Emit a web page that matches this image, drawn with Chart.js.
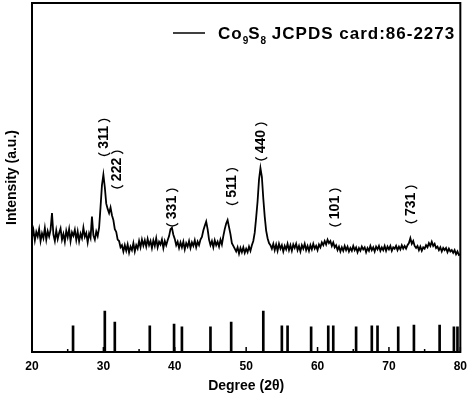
<!DOCTYPE html>
<html>
<head>
<meta charset="utf-8">
<script src="https://cdn.jsdelivr.net/npm/chart.js@4/dist/chart.umd.min.js"></script>
<style>
  html, body { margin: 0; padding: 0; background: #fff; }
  #xrd { display: block; }
</style>
</head>
<body>
<canvas id="xrd" width="474" height="401"></canvas>
<script>
// XRD pattern at 0.2 deg steps from 20 to 80 (a.u.)
var intensity = [
  328, 349, 320, 344, 331,  352, 318, 340, 326, 355,  322, 346, 331, 350, 398,
  336, 318, 348, 324, 341,  354, 322, 338, 316, 347,  329, 352, 318, 343, 333,
  350, 321, 345, 317, 339,  326, 356, 330, 341, 314,  340, 327, 388, 334, 322,
  345, 332, 356, 415, 478,  508, 472, 425, 410, 398,  414, 392, 378, 352, 344,
  322, 318, 300, 306, 288,  306, 290, 308, 285, 302,  292, 312, 288, 306, 296,
  318, 300, 322, 305, 320,  302, 324, 306, 318, 298,  320, 304, 326, 300, 316,
  308, 322, 298, 318, 306,  320, 332, 352, 356, 336,  324, 306, 316, 298, 314,
  300, 316, 294, 312, 302,  318, 298, 314, 304, 320,  300, 316, 306, 322, 330,
  348, 362, 374, 352, 322,  306, 318, 300, 320, 306,  316, 302, 322, 308, 332,
  352, 368, 378, 358, 338,  312, 304, 296, 288, 300,  282, 298, 286, 300, 284,
  296, 286, 302, 290, 306,  318, 342, 385, 432, 494,  527, 502, 440, 388, 348,
  326, 312, 306, 296, 310,  292, 308, 290, 310, 296,  306, 288, 304, 294, 310,
  292, 306, 290, 308, 298,  310, 292, 304, 288, 306,  296, 310, 292, 304, 290,
  306, 294, 310, 296, 304,  292, 308, 300, 314, 306,  318, 308, 322, 312, 318,
  304, 314, 300, 306, 292,  302, 288, 300, 290, 304,  292, 302, 288, 298, 290,
  304, 292, 300, 286, 298,  290, 302, 294, 300, 286,  298, 290, 304, 292, 300,
  288, 302, 294, 304, 290,  300, 292, 304, 290, 302,  294, 304, 290, 300, 296,
  304, 292, 302, 294, 306,  296, 304, 296, 306, 312,  326, 310, 318, 304, 298,
  304, 292, 302, 290, 300,  296, 306, 300, 312, 304,  316, 304, 310, 298, 302,
  292, 300, 288, 298, 292,  298, 286, 296, 288, 292,  284, 292, 280, 288, 278,
  280
];
var twoTheta = intensity.map(function (v, i) { return 20 + i * 0.2; });

// JCPDS 86-2273 reference lines
var refPositions = [25.75, 30.2, 31.6, 36.5, 39.9, 41.0, 45.0, 47.9, 52.4, 55.0, 55.8,
                    59.1, 61.5, 62.2, 65.4, 67.6, 68.4, 71.3, 73.5, 77.1, 79.1, 79.6];
var refHeights   = [75, 117, 86, 75, 80, 72, 72, 86, 117, 75, 75,
                    72, 75, 75, 72, 75, 75, 72, 77, 77, 72, 72];

// peak labels (hkl) with their anchor in data units
var peakHkl = ['311', '222', '331', '511', '440', '101', '731'];
var peakX   = [30.15, 31.95, 39.6, 48.0, 52.15, 62.45, 73.05];
var peakY   = [615, 523, 414, 474, 603, 414, 423];

var xTicks = [20, 30, 40, 50, 60, 70, 80];
var xMinorTicks = [25, 35, 45, 55, 65, 75];

var FONT = '"Liberation Sans", Arial, sans-serif';
var CJK = '"Noto Sans CJK SC", "Noto Sans CJK JP", sans-serif';

var decorations = {
  id: 'decorations',
  afterDraw: function (chart) {
    var ctx = chart.ctx;
    var a = chart.chartArea;
    var xs = chart.scales.x, ys = chart.scales.y;
    ctx.save();

    // frame
    ctx.strokeStyle = '#000';
    ctx.lineWidth = 2;
    ctx.strokeRect(a.left, a.top, a.right - a.left, a.bottom - a.top);

    // inward tick marks on the bottom axis
    ctx.lineWidth = 1.5;
    ctx.beginPath();
    xTicks.forEach(function (t) {
      var px = xs.getPixelForValue(t);
      ctx.moveTo(px, a.bottom); ctx.lineTo(px, a.bottom - 5);
    });
    xMinorTicks.forEach(function (t) {
      var px = xs.getPixelForValue(t);
      ctx.moveTo(px, a.bottom); ctx.lineTo(px, a.bottom - 3);
    });
    ctx.stroke();

    ctx.fillStyle = '#000';

    // peak labels, rotated: full-width brackets round the hkl digits
    ctx.textBaseline = 'middle';
    ctx.textAlign = 'left';
    var gap = 3;
    peakHkl.forEach(function (hkl, i) {
      var pieces = [['（', 'bold 13px ' + CJK], [hkl, 'bold 14px ' + FONT], ['）', 'bold 13px ' + CJK]];
      var total = 2 * gap;
      pieces.forEach(function (p) { ctx.font = p[1]; total += ctx.measureText(p[0]).width; });
      ctx.save();
      ctx.translate(xs.getPixelForValue(peakX[i]), ys.getPixelForValue(peakY[i]));
      ctx.rotate(-Math.PI / 2);
      var x = -total / 2;
      pieces.forEach(function (p, k) {
        ctx.font = p[1];
        ctx.fillText(p[0], x, 0);
        x += ctx.measureText(p[0]).width + (k < 2 ? gap : 0);
      });
      ctx.restore();
    });

    // axis titles
    ctx.textAlign = 'center';
    ctx.font = 'bold 14px ' + FONT;
    ctx.fillText('Degree (2θ)', (a.left + a.right) / 2, 386);
    ctx.save();
    ctx.translate(12, (a.top + a.bottom) / 2);
    ctx.rotate(-Math.PI / 2);
    ctx.fillText('Intensity (a.u.)', 0, 0);
    ctx.restore();

    // legend
    ctx.lineWidth = 1.5;
    ctx.beginPath();
    ctx.moveTo(173, 33); ctx.lineTo(205, 33);
    ctx.stroke();
    ctx.textAlign = 'left';
    ctx.textBaseline = 'alphabetic';
    var lx = 218, base = 39;
    var parts = [['Co', 0], ['9', 1], ['S', 0], ['8', 1], [' JCPDS card:86-2273', 0]];
    parts.forEach(function (p) {
      if (p[1]) {
        ctx.font = 'bold 10px ' + FONT;
        ctx.letterSpacing = '0px';
        ctx.fillText(p[0], lx, base + 5);
      } else {
        ctx.font = 'bold 17px ' + FONT;
        ctx.letterSpacing = '1px';
        ctx.fillText(p[0], lx, base);
      }
      lx += ctx.measureText(p[0]).width;
    });
    ctx.restore();
  }
};

new Chart(document.getElementById('xrd'), {
  type: 'line',
  data: {
    datasets: [{
      type: 'line',
      data: twoTheta.map(function (t, i) { return { x: t, y: intensity[i] }; }),
      borderColor: '#000',
      borderWidth: 1.8,
      pointRadius: 0,
      tension: 0
    }, {
      type: 'bar',
      data: refPositions.map(function (t, i) { return { x: t, y: refHeights[i] }; }),
      backgroundColor: '#000',
      barThickness: 2,
      grouped: false
    }]
  },
  plugins: [decorations],
  options: {
    responsive: false,
    animation: false,
    layout: { padding: { left: 0, right: 11, top: 3, bottom: 0 } },
    plugins: { legend: { display: false }, tooltip: { enabled: false } },
    scales: {
      x: {
        type: 'linear', min: 20, max: 80, offset: false,
        grid: { display: false, drawTicks: false },
        border: { display: false },
        ticks: { stepSize: 10, padding: 7, color: '#000', font: { family: FONT, size: 12, weight: 'bold' } },
        afterFit: function (s) { s.height = 49; }
      },
      y: {
        min: 0, max: 1000,
        grid: { display: false, drawTicks: false },
        border: { display: false },
        ticks: { display: false },
        afterFit: function (s) { s.width = 32; }
      }
    }
  }
});
</script>
</body>
</html>
